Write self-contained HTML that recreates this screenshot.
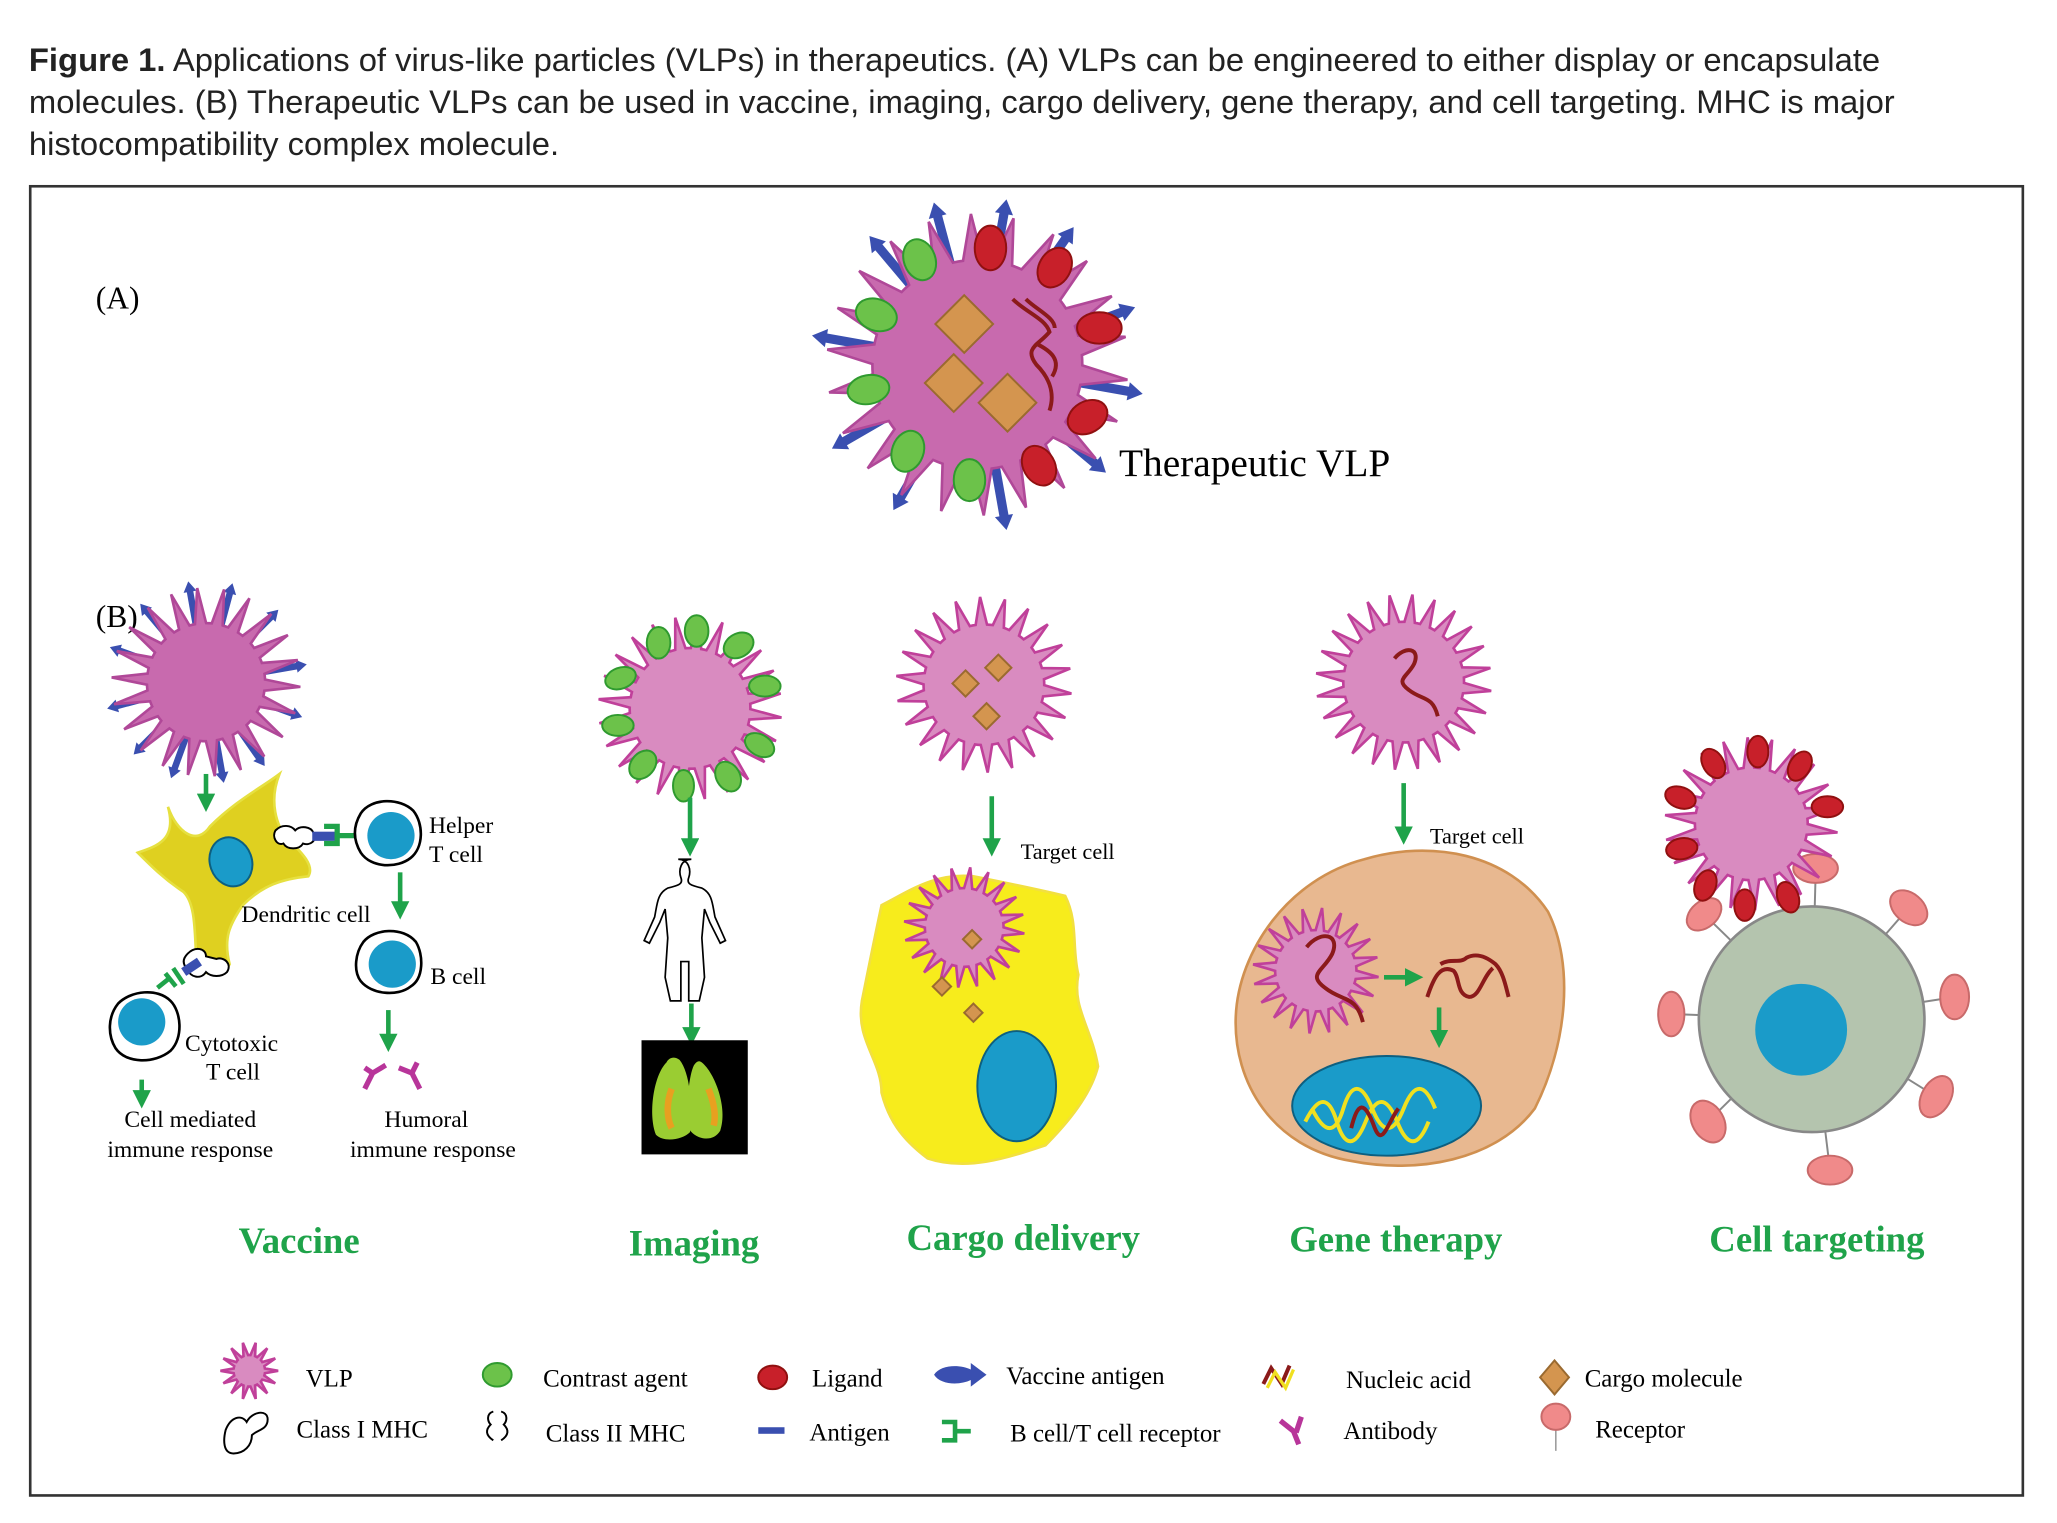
<!DOCTYPE html>
<html><head><meta charset="utf-8"><style>
html,body{margin:0;padding:0;background:#fff;width:2057px;height:1523px;overflow:hidden}
svg{display:block}
.t{font-family:"Liberation Serif",serif;fill:#000}
.g{font-family:"Liberation Serif",serif;font-weight:bold;fill:#1fa34a;font-size:28px}
.cap{font-family:"Liberation Sans",sans-serif;fill:#222;font-size:25px}
</style></head><body>
<svg id="s" width="2057" height="1523" viewBox="0 0 1568 1161" xmlns="http://www.w3.org/2000/svg">
<defs>
<marker id="ga" markerWidth="4" markerHeight="4" refX="2" refY="2" orient="auto" markerUnits="strokeWidth"><path d="M0,0 L4,2 L0,4 z" fill="#1fa34a"/></marker>
</defs>
<text class="cap" x="22" y="54"><tspan font-weight="bold">Figure 1.</tspan> Applications of virus-like particles (VLPs) in therapeutics. (A) VLPs can be engineered to either display or encapsulate</text>
<text class="cap" x="22" y="86">molecules. (B) Therapeutic VLPs can be used in vaccine, imaging, cargo delivery, gene therapy, and cell targeting. MHC is major</text>
<text class="cap" x="22" y="118">histocompatibility complex molecule.</text>
<rect x="23" y="142" width="1519" height="998" fill="#fff" stroke="#333" stroke-width="2"/>
<text class="t" x="73" y="235" font-size="24">(A)</text>
<text class="t" x="853" y="363" font-size="30">Therapeutic VLP</text>
<text class="t" x="73" y="478" font-size="24">(B)</text>
<g id="dyn"></g>
<text class="t" x="327" y="635" font-size="18">Helper</text>
<text class="t" x="327" y="657" font-size="18">T cell</text>
<text class="t" x="184" y="703" font-size="18">Dendritic cell</text>
<text class="t" x="328" y="750" font-size="18">B cell</text>
<text class="t" x="141" y="801" font-size="18">Cytotoxic</text>
<text class="t" x="157" y="823" font-size="18">T cell</text>
<text class="t" x="145" y="859" font-size="18" text-anchor="middle">Cell mediated</text>
<text class="t" x="145" y="882" font-size="18" text-anchor="middle">immune response</text>
<text class="t" x="325" y="859" font-size="18" text-anchor="middle">Humoral</text>
<text class="t" x="330" y="882" font-size="18" text-anchor="middle">immune response</text>
<text class="t" x="778" y="655" font-size="17">Target cell</text>
<text class="t" x="1090" y="643" font-size="17">Target cell</text>
<text class="g" x="228" y="955" text-anchor="middle">Vaccine</text>
<text class="g" x="529" y="957" text-anchor="middle">Imaging</text>
<text class="g" x="780" y="953" text-anchor="middle">Cargo delivery</text>
<text class="g" x="1064" y="954" text-anchor="middle">Gene therapy</text>
<text class="g" x="1385" y="954" text-anchor="middle">Cell targeting</text>
<g class="t" font-size="19">
<text x="233" y="1057">VLP</text>
<text x="414" y="1057">Contrast agent</text>
<text x="619" y="1057">Ligand</text>
<text x="767" y="1055">Vaccine antigen</text>
<text x="1026" y="1058">Nucleic acid</text>
<text x="1208" y="1057">Cargo molecule</text>
<text x="226" y="1096">Class I MHC</text>
<text x="416" y="1099">Class II MHC</text>
<text x="617" y="1098">Antigen</text>
<text x="770" y="1099">B cell/T cell receptor</text>
<text x="1024" y="1097">Antibody</text>
<text x="1216" y="1096">Receptor</text>
</g>
</svg>
<script>
var NS="http://www.w3.org/2000/svg",D=document.getElementById("dyn");
function el(t,a){var e=document.createElementNS(NS,t);for(var k in a)e.setAttribute(k,a[k]);D.appendChild(e);return e;}
function star(cx,cy,ri,ro,n,fill,stroke,rot){rot=rot||0;var p="",step=2*Math.PI/n,w=step*0.33;
function pt(a,r){return (cx+r*Math.cos(a)).toFixed(1)+","+(cy+r*Math.sin(a)).toFixed(1);}
for(var i=0;i<n;i++){var a=rot+i*step;
p+=(i?"L":"M")+pt(a-w,ri)+"L"+pt(a,ro)+"L"+pt(a+w,ri)+"A"+ri+","+ri+" 0 0 1 "+pt(a+step-w,ri);}
el("path",{d:p+"Z",fill:fill,stroke:stroke,"stroke-width":2});}
function ell(cx,cy,rx,ry,ang,fill,stroke){el("ellipse",{cx:cx,cy:cy,rx:rx,ry:ry,fill:fill,stroke:stroke||"none","stroke-width":1.5,transform:"rotate("+ang+" "+cx+" "+cy+")"});}
function diam(cx,cy,s){el("path",{d:"M"+cx+","+(cy-s)+"L"+(cx+s)+","+cy+"L"+cx+","+(cy+s)+"L"+(cx-s)+","+cy+"Z",fill:"#d4954f",stroke:"#9a6a30","stroke-width":1.5});}
function barrow(cx,cy,r,ang,len,w){var a=ang*Math.PI/180,x1=cx+r*Math.cos(a),y1=cy+r*Math.sin(a),x2=cx+(r+len)*Math.cos(a),y2=cy+(r+len)*Math.sin(a);
el("line",{x1:x1,y1:y1,x2:x2-w*1.2*Math.cos(a),y2:y2-w*1.2*Math.sin(a),stroke:"#3a4fb0","stroke-width":w});
var px=-Math.sin(a),py=Math.cos(a),hx=x2-w*1.6*Math.cos(a),hy=y2-w*1.6*Math.sin(a);
el("path",{d:"M"+x2+","+y2+"L"+(hx+px*w)+","+(hy+py*w)+"L"+(hx-px*w)+","+(hy-py*w)+"Z",fill:"#3a4fb0"});}
function garrow(x1,y1,x2,y2){el("line",{x1:x1,y1:y1,x2:x2,y2:y2,stroke:"#1fa34a","stroke-width":3.5,"marker-end":"url(#ga)"});}
function squig(x,y,s,c){el("path",{d:"M"+x+","+y+" c"+(8*s)+","+(-10*s)+" "+(20*s)+","+(-8*s)+" "+(15*s)+","+(4*s)+" c"+(-5*s)+","+(10*s)+" "+(-15*s)+","+(12*s)+" "+(-4*s)+","+(20*s)+" c"+(10*s)+","+(8*s)+" "+(18*s)+","+(4*s)+" "+(22*s)+","+(20*s),fill:"none",stroke:c||"#8b1a1a","stroke-width":3});}
var A=[745,278];
[-105,-80,-55,-20,10,40,80,120,150,190,230].forEach(function(a){barrow(A[0],A[1],70,a,58,7);});
star(A[0],A[1],80,115,22,"#c86aae","#b04898",0.1);
diam(735,247,22);diam(727,292,22);diam(768,307,22);
el("path",{d:"M772,228 c10,10 25,15 28,25 c-8,10 -20,12 -10,25 c8,8 15,20 10,35",fill:"none",stroke:"#8b1a1a","stroke-width":3});
el("path",{d:"M782,228 c8,8 22,14 22,22 M790,262 c10,5 20,12 12,25",fill:"none",stroke:"#8b1a1a","stroke-width":3});
[[701,198,12,16,-20],[668,240,16,12,20],[662,297,16,11,-10],[692,344,12,16,20],[739,366,12,16,0]].forEach(function(v){ell(v[0],v[1],v[2],v[3],v[4],"#6cc24a","#2f9a2f");});
[[755,189,12,17,0],[804,204,12,16,30],[838,250,17,12,0],[829,318,16,12,-30],[792,355,12,16,-30]].forEach(function(v){ell(v[0],v[1],v[2],v[3],v[4],"#c8202a","#901010");});
var V=[157,520];
[-100,-75,-45,-10,20,55,80,110,135,165,200,230].forEach(function(a){barrow(V[0],V[1],42,a,36,5);});
star(V[0],V[1],45,72,22,"#c86aae","#b04898",0.05);
garrow(157,590,157,612);
el("path",{d:"M128,615 C135,635 150,645 160,630 C180,610 200,600 213,590 C205,610 210,630 220,640 C230,650 240,660 235,668 C215,670 200,675 185,690 C175,705 170,715 175,735 C170,745 155,745 150,735 C148,715 150,690 140,680 C125,670 115,660 105,650 C120,645 135,640 128,615Z",fill:"#dfd020",stroke:"#e6e040","stroke-width":2});
ell(176,657,16,19,-20,"#1a9bc9","#0d5f80");
el("path",{d:"M210,633 c5,-5 12,-4 15,0 c4,-4 12,-3 14,2 c3,6 -3,10 -8,8 c-3,5 -12,5 -15,0 c-5,2 -9,-5 -6,-10z",fill:"#fff",stroke:"#000","stroke-width":1.5});
el("rect",{x:238,y:634,width:18,height:7,fill:"#3a4fb0"});
el("path",{d:"M247,630 h10 v13 h-10 M257,637 h18",fill:"none",stroke:"#1fa34a","stroke-width":4});
el("path",{d:"M275,620 c8,-12 30,-12 40,-2 c8,10 8,28 -2,36 c-10,8 -30,8 -38,-4 c-6,-10 -6,-20 0,-30z",fill:"#fff",stroke:"#000","stroke-width":2});
el("circle",{cx:298,cy:637,r:18,fill:"#1a9bc9"});
garrow(305,665,305,694);
el("path",{d:"M277,718 c8,-10 30,-12 40,0 c6,10 6,28 -4,34 c-10,8 -30,6 -38,-4 c-6,-8 -4,-22 2,-30z",fill:"#fff",stroke:"#000","stroke-width":2});
el("circle",{cx:299,cy:735,r:18,fill:"#1a9bc9"});
garrow(296,770,296,795);
el("path",{d:"M278,830 l6,-12 l10,-6 M284,818 l-6,-4 M320,830 l-6,-12 l-10,-4 M314,818 l4,-8",fill:"none",stroke:"#b8359a","stroke-width":4});
el("path",{d:"M143,727 c6,-6 14,-4 14,2 l8,2 c6,-2 12,4 8,10 c-4,4 -12,4 -16,0 c-4,6 -12,4 -14,-2 c-4,-4 -4,-8 0,-12z",fill:"#fff",stroke:"#000","stroke-width":1.5});
el("path",{d:"M140,741 l12,-8",stroke:"#3a4fb0","stroke-width":7});
el("path",{d:"M126,742 l8,10 M132,738 l8,12 M130,745 l-10,8",fill:"none",stroke:"#1fa34a","stroke-width":3.5});
el("path",{d:"M90,765 c10,-10 30,-12 40,-2 c8,8 10,28 0,38 c-12,10 -34,10 -42,-2 c-6,-10 -6,-24 2,-34z",fill:"#fff",stroke:"#000","stroke-width":2});
el("circle",{cx:108,cy:779,r:18,fill:"#1a9bc9"});
garrow(108,823,108,838);
star(526,540,46,70,24,"#d98bc0","#c0409a",0.1);
[[502,490,9,12,0],[531,481,9,12,0],[563,492,12,9,-30],[583,523,12,8,0],[579,568,12,8,30],[555,592,9,12,-30],[521,599,8,12,0],[490,583,9,12,40],[471,553,12,8,0],[473,517,12,8,-20]].forEach(function(v){ell(v[0],v[1],v[2],v[3],v[4],"#6cc24a","#2f9a2f");});
garrow(526,608,526,646);
el("path",{d:"M527,655 c-8,0 -10,8 -8,14 c2,5 -2,6 -10,8 c-8,4 -8,12 -10,22 l-8,18 l4,2 l8,-16 l4,-10 l2,22 l-2,30 l4,18 l8,0 l0,-30 l6,0 l0,30 l8,0 l4,-18 l-2,-30 l2,-22 l4,10 l8,16 l4,-2 l-8,-18 c-2,-10 -2,-18 -10,-22 c-8,-2 -12,-3 -10,-8 c2,-6 0,-14 -8,-14z",fill:"#fff",stroke:"#000","stroke-width":1.3});
garrow(527,765,527,790);
el("rect",{x:489,y:793,width:81,height:87,fill:"#000"});
el("path",{d:"M508,810 c-10,10 -14,40 -8,55 c6,6 20,4 26,-2 c2,-20 0,-45 -8,-55 c-4,-3 -8,-2 -10,2z",fill:"#9acd32"});
el("path",{d:"M535,810 c10,8 20,35 14,52 c-6,10 -20,6 -24,-2 c-2,-18 0,-40 4,-48 c2,-3 4,-4 6,-2z",fill:"#9acd32"});
el("path",{d:"M512,830 c-4,10 -4,22 0,30 M540,830 c4,10 6,20 4,28",stroke:"#e8a020","stroke-width":5,fill:"none"});
star(750,522,46,67,22,"#d98bc0","#c0409a",0.1);
diam(736,521,10);diam(761,509,10);diam(752,546,10);
garrow(756,607,756,646);
el("path",{d:"M672,690 c20,-10 40,-25 70,-22 c25,5 50,10 70,15 c10,20 5,40 10,60 c-5,25 10,40 15,70 c-5,20 -20,40 -40,60 c-30,10 -60,20 -90,10 c-20,-15 -30,-30 -35,-50 c0,-25 -20,-40 -15,-70 c5,-25 10,-50 15,-73z",fill:"#f7ec1c",stroke:"#f2e040","stroke-width":2});
star(735,707,30,46,20,"#d98bc0","#c0409a",0.1);
diam(741,716,7);diam(718,752,7);diam(742,772,7);
ell(775,828,30,42,0,"#1a9bc9","#0d5f80");
star(1070,520,46,67,24,"#d98bc0","#c0409a",0.1);
squig(1063,502,1.0);
garrow(1070,597,1070,637);
el("path",{d:"M1040,655 c50,-15 110,-5 140,40 c20,40 15,100 -10,150 c-30,40 -90,50 -140,40 c-60,-10 -90,-60 -88,-110 c2,-50 40,-105 98,-120z",fill:"#e8b890",stroke:"#d09050","stroke-width":2});
star(1003,740,31,48,20,"#d98bc0","#c0409a",0.1);
squig(996,722,1.3);
garrow(1055,745,1078,745);
el("path",{d:"M1088,760 c5,-15 10,-25 20,-20 c5,5 2,18 12,20 c8,0 10,-15 18,-22 M1098,735 c8,-5 15,0 20,-5 c8,-4 16,0 22,5 c6,6 8,18 10,25",fill:"none",stroke:"#8b1a1a","stroke-width":3});
garrow(1097,768,1097,792);
ell(1057,843,72,38,0,"#1a9bc9","#0d5f80");
el("path",{d:"M995,855 c10,-20 18,-20 24,0 c6,20 14,20 22,0 c8,-20 16,-20 24,0 c8,20 16,20 24,0",fill:"none",stroke:"#f0e020","stroke-width":3});
el("path",{d:"M1000,845 c10,20 18,20 24,0 c6,-20 14,-20 22,0 c8,20 16,20 24,0 c8,-20 16,-20 24,0",fill:"none",stroke:"#f0e020","stroke-width":3});
el("path",{d:"M1030,860 c5,-20 10,-22 18,0 c6,15 10,-5 18,-15",fill:"none",stroke:"#8b1a1a","stroke-width":3});
var C=[1381,777];
[[1384,668],[1299,697],[1274,773],[1302,855],[1395,892],[1476,836],[1490,760],[1455,692]].forEach(function(p){el("line",{x1:C[0],y1:C[1],x2:p[0],y2:p[1],stroke:"#888","stroke-width":1.5});});
el("circle",{cx:C[0],cy:C[1],r:86,fill:"#b4c4ae",stroke:"#888","stroke-width":2});
el("circle",{cx:1373,cy:785,r:35,fill:"#1a9bc9"});
[[1384,662,17,11,0],[1299,697,15,10,-40],[1274,773,10,17,0],[1302,855,12,17,-30],[1395,892,17,11,0],[1476,836,11,17,30],[1490,760,11,17,0],[1455,692,16,11,40]].forEach(function(v){ell(v[0],v[1],v[2],v[3],v[4],"#f08a8a","#c86a6a");});
star(1335,628,43,66,22,"#d98bc0","#c0409a",0.1);
[[1306,582,8,12,-30],[1340,573,8,12,0],[1372,584,8,12,30],[1393,615,12,8,0],[1281,608,12,8,20],[1282,647,12,8,-10],[1300,675,8,12,20],[1330,690,8,12,0],[1363,684,8,12,-20]].forEach(function(v){ell(v[0],v[1],v[2],v[3],v[4],"#c8202a","#901010");});
star(190,1045,12,22,14,"#d98bc0","#c0409a",0);
ell(379,1048,11,9,0,"#6cc24a","#2f9a2f");
ell(589,1050,11,9,0,"#c8202a","#901010");
el("path",{d:"M712,1048 c5,-8 20,-8 28,-4 l0,-5 l12,9 l-12,9 l0,-5 c-8,4 -23,4 -28,-4z",fill:"#3a4fb0"});
el("path",{d:"M963,1055 l6,-12 l8,12 l6,-14",fill:"none",stroke:"#8b1a1a","stroke-width":3});
el("path",{d:"M966,1058 l6,-12 l8,12 l6,-14",fill:"none",stroke:"#f0e020","stroke-width":2.5});
el("path",{d:"M1185,1037 l11,13 l-11,13 l-11,-13z",fill:"#d4954f",stroke:"#9a6a30","stroke-width":1.5});
el("path",{d:"M172,1090 c4,-10 12,-12 16,-6 c4,-8 16,-10 16,-2 c0,8 -8,8 -12,12 c0,8 -6,14 -14,14 c-8,0 -8,-10 -6,-18z",fill:"#fff",stroke:"#000","stroke-width":1.5});
el("path",{d:"M376,1076 c-6,2 -4,8 -2,10 c-4,4 -4,8 2,12 M382,1076 c6,2 4,8 2,10 c4,4 4,8 -2,12",fill:"none",stroke:"#000","stroke-width":1.5});
el("rect",{x:578,y:1088,width:20,height:5,fill:"#3a4fb0"});
el("path",{d:"M718,1084 h10 v14 h-10 M728,1091 h12",fill:"none",stroke:"#1fa34a","stroke-width":3.5});
el("path",{d:"M976,1083 l10,8 l4,10 M992,1080 l-4,12",fill:"none",stroke:"#b8359a","stroke-width":4});
el("line",{x1:1186,y1:1085,x2:1186,y2:1106,stroke:"#888","stroke-width":1});
ell(1186,1080,11,10,0,"#f08a8a","#c86a6a");
</script>
</body></html>
